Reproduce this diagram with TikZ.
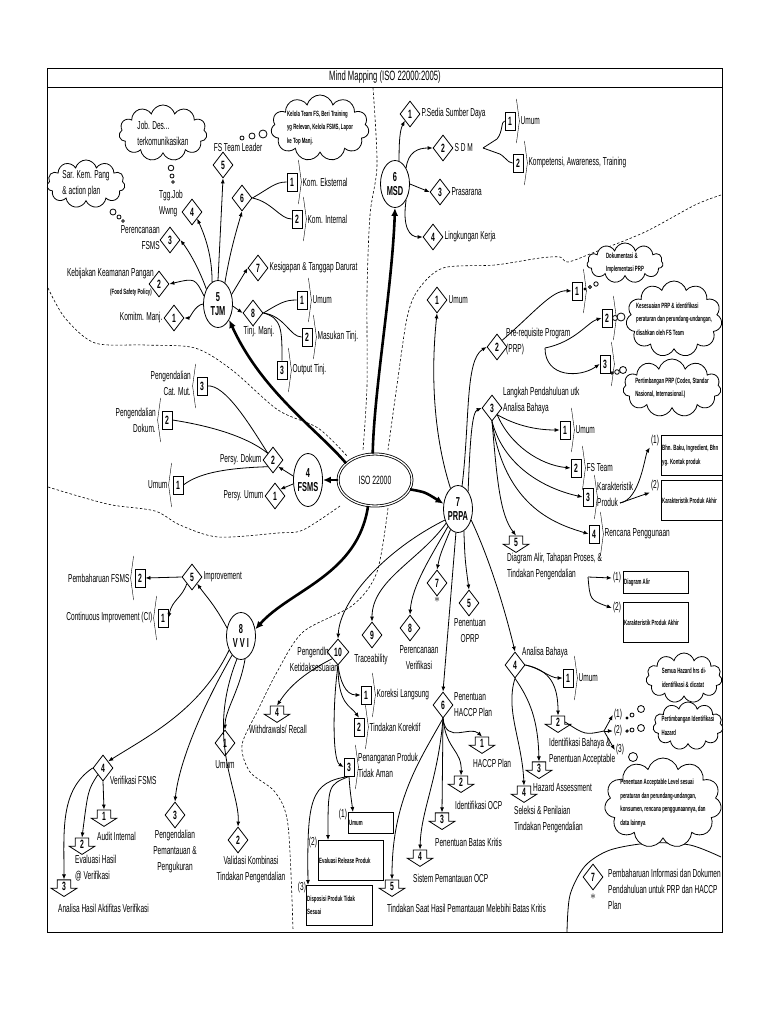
\documentclass[tikz,border=0pt]{standalone}
\usepackage{fontspec}
\setmainfont{Liberation Sans}[FakeStretch=0.57]
\usetikzlibrary{shapes.geometric,shapes.symbols,shapes.arrows,arrows.meta,calc}

\begin{document}
\begin{tikzpicture}[x=1pt,y=-1pt,>={Latex[length=5pt,width=4pt]},
  txt/.style={font=\fontsize{11.5}{16}\selectfont,inner sep=1pt,align=center},
  stxt/.style={font=\bfseries\fontsize{7.6}{13.5}\selectfont,inner sep=1pt,align=left},
  hub/.style={ellipse,draw,thick,fill=white,inner sep=0pt,minimum width=29pt,minimum height=47pt,
    align=center,font=\bfseries\fontsize{13}{14}\selectfont},
  dnode/.style={diamond,draw,thick,fill=white,inner sep=0pt,minimum width=20pt,minimum height=26pt,
    font=\bfseries\fontsize{12}{12}\selectfont},
  bnode/.style={rectangle,draw,thick,fill=white,inner sep=0pt,minimum width=10pt,minimum height=18pt,
    font=\bfseries\fontsize{12}{12}\selectfont,
    append after command={($(\tikzlastnode.east)+(1,-22)$) edge ($(\tikzlastnode.east)+(4,0)$)
      ($(\tikzlastnode.east)+(4,0)$) edge ($(\tikzlastnode.east)+(1,22)$)}},
  blnode/.style={rectangle,draw,thick,fill=white,inner sep=0pt,minimum width=10pt,minimum height=18pt,
    font=\bfseries\fontsize{12}{12}\selectfont,
    append after command={($(\tikzlastnode.west)+(-1,-22)$) edge ($(\tikzlastnode.west)+(-4,0)$)
      ($(\tikzlastnode.west)+(-4,0)$) edge ($(\tikzlastnode.west)+(-1,22)$)}},
  anode/.style={single arrow,draw,thick,fill=white,shape border rotate=270,single arrow head extend=6pt,
    single arrow tip angle=115,inner xsep=4.5pt,inner ysep=1.5pt,font=\bfseries\fontsize{12}{12}\selectfont},
  cnode/.style={cloud,draw,thick,fill=white,cloud puffs=11,cloud ignores aspect,inner sep=0pt},
  rnode/.style={rectangle,draw,thick,fill=white,anchor=north west,inner sep=2pt},
  link/.style={thick,->},
  trunk/.style={line width=2.6pt,-{Latex[length=8pt,width=7pt]}},
  zone/.style={semithick,dash pattern=on 2.5pt off 2pt}]

  \useasboundingbox (0,0) rectangle (768,1024);
  \draw[thick] (47,68) rectangle (722,932);
  \draw[thick] (47,87) -- (722,87);
  \node[txt,font=\fontsize{13.5}{14}\selectfont] (title) at (385,77.5) {Mind Mapping (ISO 22000:2005)};

  % region borders
  \draw[zone] plot[smooth] coordinates {(48,288) (65,318) (95,343) (145,345) (195,348) (232,370) (278,410) (318,428) (347,456)};
  \draw[zone] plot[smooth] coordinates {(373,88) (377,165) (370,215) (367,292) (367,385) (363,450)};
  \draw[zone] plot[smooth] coordinates {(721,195) (695,205) (645,232) (595,252) (568,262) (560,257) (540,258) (495,265) (443,268) (418,290) (407,318) (397,385) (388,450)};
  \draw[zone] plot[smooth] coordinates {(48,487) (78,496) (112,505) (155,511) (180,525) (218,537) (278,533) (303,530) (340,506)};
  \draw[zone] plot[smooth] coordinates {(388,508) (377,572) (353,605) (303,632) (277,672) (258,710) (242,745) (250,772) (275,792) (288,825) (293,930)};
  \draw[thick] plot[smooth] coordinates {(567,932) (570,895) (585,866) (610,850) (650,843) (690,845) (721,857)};

  % hubs
  \node[hub,double,double distance=1.3pt,minimum width=74pt,minimum height=52pt,
    font=\fontsize{12}{13}\selectfont] (iso) at (375,480) {ISO 22000};
  \node[hub] (tjm) at (218,304) {5\\TJM};
  \node[hub] (msd) at (395,184) {6\\MSD};
  \node[hub,minimum height=53pt] (fsms) at (308,480) {4\\FSMS};
  \node[hub] (prpa) at (458,509) {7\\PRPA};
  \node[hub] (vvi) at (241,636) {8\\V V I};

  \draw[trunk] (iso.150) .. controls (318,430) and (262,392) .. (tjm.-55);
  \draw[trunk] (iso.95) .. controls (374,390) and (392,290) .. (msd.south);
  \draw[trunk] (iso.west) -- (fsms.east);
  \draw[trunk] (iso.-15) .. controls (425,492) .. (prpa.160);
  \draw[trunk] (iso.-105) .. controls (358,575) and (290,590) .. (vvi.25);

  % TJM
  \node[dnode,label={[txt]left:Komitm. Manj.}] (tjm1) at (174,318) {1};
  \node[dnode] (tjm2) at (159,284) {2};
  \node[txt,anchor=east] (tjm2t) at (155,274) {Kebijakan Keamanan Pangan};
  \node[stxt,anchor=east] (tjm2s) at (153,293) {(Food Safety Policy)};
  \node[dnode] (tjm3) at (170,240) {3};
  \node[txt,anchor=east,align=right] (tjm3t) at (161,238) {Perencanaan\\FSMS};
  \node[dnode] (tjm4) at (192,212) {4};
  \node[txt,anchor=east,align=left] (tjm4t) at (184,204) {Tgg.Job\\Wwng};
  \node[dnode] (tjm5) at (223,165) {5};
  \node[txt] (tjm5t) at (238,147) {FS Team Leader};
  \node[dnode] (tjm6) at (242,198) {6};
  \node[bnode,label={[txt,xshift=4pt]right:Kom. Eksternal}] (tjm61) at (292,182) {1};
  \node[bnode,label={[txt,xshift=4pt]right:Kom. Internal}] (tjm62) at (297,219) {2};
  \node[dnode,label={[txt]right:Kesigapan \& Tanggap Darurat}] (tjm7) at (258,268) {7};
  \node[dnode] (tjm8) at (253,313) {8};
  \node[txt] (tjm8t) at (259,332) {Tinj. Manj.};
  \node[bnode,label={[txt,xshift=4pt]right:Umum}] (tjm81) at (302,300) {1};
  \node[bnode,label={[txt,xshift=4pt]right:Masukan Tinj.}] (tjm82) at (307,337) {2};
  \node[bnode,label={[txt,xshift=4pt]right:Output Tinj.}] (tjm83) at (282,370) {3};
  \node[cnode,minimum width=88pt,minimum height=56pt,label={[txt,align=left]center:Job. Des...\\terkomunikasikan}] (tjmc1) at (163,133) {};
  \node[cnode,minimum width=78pt,minimum height=48pt,label={[txt,align=left]center:Sar. Kem. Pang\\\& action plan}] (tjmc2) at (86,184) {};
  \node[cnode,minimum width=98pt,minimum height=66pt,label={[stxt]center:{Kelola Team FS, Beri Training\\yg Relevan, Kelola FSMS, Lapor\\ke Top Manj.}}] (tjmc3) at (320,128) {};
  \foreach \x/\y/\r in {113/212/3,119/217/2,123/221/1.4,171/168/2.8,172/176/2,173/182/1.4,242/138/2,252/136/3,263/134/4}
    \draw[thick,fill=white] (\x,\y) circle[radius=\r pt];

  \draw[link] (tjm.west) .. controls (195,305) and (190,318) .. (tjm1.east);
  \draw[link] (tjm.150) .. controls (195,278) .. (tjm2.east);
  \draw[link] (tjm.128) .. controls (198,266) and (188,250) .. (tjm3.east);
  \draw[link] (tjm.105) .. controls (212,255) and (205,236) .. (tjm4.south east);
  \draw[link] (tjm.north) -- (tjm5.south);
  \draw[link] (tjm.72) .. controls (230,252) and (236,232) .. (tjm6.south);
  \draw[link] (tjm.35) -- (tjm7.west);
  \draw[link] (tjm.-8) -- (tjm8.west);
  \draw[thick] (tjm6.east) .. controls (270,188) and (275,182) .. (tjm61.west);
  \draw[thick] (tjm6.east) .. controls (272,202) and (280,219) .. (tjm62.west);
  \draw[thick] (tjm8.east) .. controls (280,303) and (285,300) .. (tjm81.west);
  \draw[thick] (tjm8.east) .. controls (285,316) and (290,337) .. (tjm82.west);
  \draw[thick] (tjm8.east) .. controls (282,318) and (282,330) .. (tjm83.north);

  % MSD
  \node[dnode,label={[txt]right:P.Sedia Sumber Daya}] (msd1) at (410,114) {1};
  \node[dnode,label={[txt]right:S D M}] (msd2) at (443,148) {2};
  \coordinate (sdm) at (483,148);
  \node[bnode,label={[txt,xshift=4pt]right:Umum}] (msd21) at (510,121) {1};
  \node[bnode,label={[txt,xshift=4pt]right:{Kompetensi, Awareness, Training}}] (msd22) at (518,163) {2};
  \node[dnode,label={[txt]right:Prasarana}] (msd3) at (440,192) {3};
  \node[dnode,label={[txt]right:Lingkungan Kerja}] (msd4) at (433,237) {4};
  \draw[link] (msd.80) .. controls (399,140) and (400,130) .. (msd1.south west);
  \draw[link] (msd.55) .. controls (408,152) and (418,148) .. (msd2.west);
  \draw[link] (msd.east) -- (msd3.west);
  \draw[link] (msd.-55) .. controls (402,228) and (410,237) .. (msd4.west);
  \draw[thick] (sdm) -- (497,139) .. controls (503,132) and (501,121) .. (msd21.west);
  \draw[thick] (sdm) -- (497,153) .. controls (505,155) and (507,163) .. (msd22.west);

  % FSMS
  \node[dnode,label={[txt]left:Persy. Dokum}] (fsms2) at (273,460) {2};
  \node[dnode,label={[txt]left:Persy. Umum}] (fsms1) at (275,496) {1};
  \node[blnode] (fsms23) at (202,386) {3};
  \node[txt,anchor=east,align=right] (fsms23t) at (192,383) {Pengendalian\\Cat. Mut.};
  \node[blnode] (fsms22) at (167,420) {2};
  \node[txt,anchor=east,align=right] (fsms22t) at (157,420) {Pengendalian\\Dokum.};
  \node[blnode,label={[txt,xshift=-4pt]left:Umum}] (fsms11) at (178,485) {1};
  \draw[link] (fsms.165) -- (fsms2.south east);
  \draw[link] (fsms.195) -- (fsms1.north east);
  \draw[thick] (fsms2.north west) .. controls (250,425) and (225,384) .. (fsms23.east);
  \draw[thick] (fsms2.north west) .. controls (245,435) and (205,425) .. (fsms22.east);
  \draw[thick] (fsms2.south west) .. controls (230,468) and (200,472) .. (fsms11.east);

  % PRPA
  \node[dnode,label={[txt]right:Umum}] (prpa1) at (437,300) {1};
  \node[dnode] (prpa2) at (497,347) {2};
  \node[txt,anchor=west,align=left] (prpa2t) at (505,342) {Pre-requisite Program\\(PRP)};
  \coordinate (prp) at (545,348);
  \node[bnode] (prpa21) at (577,291) {1};
  \node[bnode] (prpa22) at (607,318) {2};
  \node[bnode] (prpa23) at (605,364) {3};
  \node[cnode,minimum width=76pt,minimum height=40pt,label={[stxt]center:Dokumentasi \&\\Implementasi PRP}] (prpac1) at (625,263) {};
  \node[cnode,minimum width=96pt,minimum height=76pt,label={[stxt]center:{Kesesuaian PRP \& identifikasi\\peraturan dan perundang-undangan,\\disahkan oleh FS Team}}] (prpac2) at (674,319) {};
  \node[cnode,minimum width=98pt,minimum height=58pt,label={[stxt]center:{Pertimbangan PRP (Codex, Standar\\Nasional, Internasional.)}}] (prpac3) at (672,388) {};
  \foreach \x/\y/\r in {585/289/1,590/287/1.5,596/284/2.2,615/318/2.5,621/317/4,612/373/1.2,617/372/2.3,623/370/3.5}
    \draw[thick,fill=white] (\x,\y) circle[radius=\r pt];

  \node[dnode] (prpa3) at (492,408) {3};
  \node[txt,anchor=west,align=left] (prpa3t) at (502,401) {Langkah Pendahuluan utk\\Analisa Bahaya};
  \node[bnode,label={[txt,xshift=4pt]right:Umum}] (prpa31) at (565,430) {1};
  \node[bnode,label={[txt,xshift=4pt]right:FS Team}] (prpa32) at (576,468) {2};
  \node[bnode] (prpa33) at (588,497) {3};
  \node[txt,anchor=west,align=left] (prpa33t) at (596,494) {Karakteristik\\Produk};
  \coordinate (kprod) at (620,503);
  \node[bnode,label={[txt,xshift=4pt]right:Rencana Penggunaan}] (prpa34) at (594,534) {4};
  \node[txt] (kp1) at (655,441) {(1)};
  \node[rnode,minimum width=61pt,minimum height=40pt,label={[stxt,anchor=west]west:{Bhn. Baku, Ingredient, Bhn\\yg. Kontak produk}}] (kpr1) at (661,435) {};
  \node[txt] (kp2) at (655,486) {(2)};
  \node[rnode,minimum width=61pt,minimum height=40pt,label={[stxt,anchor=west]west:Karakteristik Produk Akhir}] (kpr2) at (661,480) {};
  \node[anode] (prpa35) at (516,542) {5};
  \node[txt,anchor=north west,align=left] (prpa35t) at (506,552) {Diagram Alir, Tahapan Proses, \&\\Tindakan Pengendalian};
  \coordinate (dalir) at (588,577);
  \node[txt] (da1) at (617,578) {(1)};
  \node[rnode,minimum width=65pt,minimum height=22pt,label={[stxt,anchor=west]west:Diagram Alir}] (dar1) at (623,571) {};
  \node[txt] (da2) at (617,608) {(2)};
  \node[rnode,minimum width=65pt,minimum height=40pt,label={[stxt,anchor=west]west:Karakteristik Produk Akhir}] (dar2) at (623,602) {};

  \node[dnode] (prpa4) at (515,665) {4};
  \node[txt,anchor=west] (prpa4t) at (521,653) {Analisa Bahaya};
  \node[bnode,label={[txt,xshift=4pt]right:Umum}] (prpa41) at (568,678) {1};
  \node[anode] (prpa42) at (558,722) {2};
  \node[txt,anchor=north west,align=left] (prpa42t) at (548,737) {Identifikasi Bahaya \&\\Penentuan Acceptable};
  \node[anode] (prpa43) at (539,768) {3};
  \node[txt,anchor=west] (prpa43t) at (532,787) {Hazard Assessment};
  \node[anode] (prpa44) at (524,792) {4};
  \node[txt,anchor=north west,align=left] (prpa44t) at (513,805) {Seleksi \& Penilaian\\Tindakan Pengendalian};
  \node[txt] (h1) at (618,715) {(1)};
  \node[txt] (h2) at (618,731) {(2)};
  \node[txt] (h3) at (620,750) {(3)};
  \coordinate (hz) at (604,731);
  \node[cnode,minimum width=76pt,minimum height=50pt,label={[stxt]center:Semua Hazard hrs di-\\identifikasi \& dicatat}] (hc1) at (684,678) {};
  \node[cnode,minimum width=70pt,minimum height=48pt,label={[stxt]center:Pertimbangan Identifikasi\\Hazard}] (hc2) at (688,726) {};
  \node[cnode,minimum width=117pt,minimum height=90pt,label={[stxt]center:{Penentuan Acceptable Level sesuai\\peraturan dan perundang-undangan,\\konsumen, rencana penggunaannya, dan\\data lainnya}}] (hc3) at (663,803) {};
  \foreach \x/\y/\r in {627/718/1,632/715/2,641/709/3.5,627/731/1.2,632/730/2,641/728/3.5,633/757/4.5}
    \draw[thick,fill=white] (\x,\y) circle[radius=\r pt];

  \node[dnode] (prpa5) at (469,603) {5};
  \node[txt,anchor=north] (prpa5t) at (470,617) {Penentuan\\OPRP};
  \node[dnode] (prpa6) at (443,705) {6};
  \node[txt,anchor=west,align=left] (prpa6t) at (453,705) {Penentuan\\HACCP Plan};
  \node[anode] (prpa61) at (482,743) {1};
  \node[txt,anchor=west] (prpa61t) at (472,763) {HACCP Plan};
  \node[anode] (prpa62) at (461,782) {2};
  \node[txt,anchor=west] (prpa62t) at (454,805) {Identifikasi OCP};
  \node[anode] (prpa63) at (442,819) {3};
  \node[txt,anchor=west] (prpa63t) at (434,842) {Penentuan Batas Kritis};
  \node[anode] (prpa64) at (420,856) {4};
  \node[txt,anchor=west] (prpa64t) at (412,878) {Sistem Pemantauan OCP};
  \node[anode] (prpa65) at (392,886) {5};
  \node[txt,anchor=west] (prpa65t) at (386,908) {Tindakan Saat Hasil Pemantauan Melebihi Batas Kritis};
  \node[dnode] (prpa7) at (437,583) {7};
  \node[txt] (prpa7s) at (437,600) {$\ast$};
  \node[dnode] (prpa8) at (410,628) {8};
  \node[txt,anchor=north] (prpa8t) at (419,644) {Perencanaan\\Verifikasi};
  \node[dnode] (prpa9) at (372,635) {9};
  \node[txt] (prpa9t) at (371,660) {Traceability};
  \node[dnode,minimum width=22pt] (prpa10) at (338,652) {10};
  \node[txt] (prpa10t) at (314,659) {Pengendln.\\Ketidaksesuaian};
  \node[bnode,label={[txt,xshift=4pt]right:Koreksi Langsung}] (prpa101) at (366,695) {1};
  \node[bnode,label={[txt,xshift=4pt]right:Tindakan Korektif}] (prpa102) at (359,727) {2};
  \node[bnode] (prpa103) at (349,767) {3};
  \node[txt,anchor=west,align=left] (prpa103t) at (357,765) {Penanganan Produk\\Tidak Aman};
  \node[anode] (prpa104) at (277,712) {4};
  \node[txt] (prpa104t) at (278,729) {Withdrawals/ Recall};
  \node[txt] (pp1) at (343,815) {(1)};
  \node[rnode,minimum width=45pt,minimum height=21pt,label={[stxt,anchor=west]west:Umum}] (ppr1) at (348,812) {};
  \node[txt] (pp2) at (313,843) {(2)};
  \node[rnode,minimum width=65pt,minimum height=40pt,label={[stxt,anchor=west]west:Evaluasi Release Produk}] (ppr2) at (318,840) {};
  \node[txt] (pp3) at (302,888) {(3)};
  \node[rnode,minimum width=66pt,minimum height=40pt,label={[stxt,anchor=west]west:Disposisi Produk Tidak\\Sesuai}] (ppr3) at (306,885) {};

  \draw[link] (prpa.110) .. controls (435,440) and (430,380) .. (prpa1.south);
  \draw[link] (prpa.80) .. controls (470,420) and (465,360) .. (prpa2.west);
  \draw[link] (prpa.60) .. controls (470,440) and (472,412) .. (prpa3.west);
  \draw[link] (prpa2.north east) .. controls (535,312) and (552,290) .. (prpa21.west);
  \draw[link] (prp) .. controls (575,342) and (588,322) .. (prpa22.west);
  \draw[link] (prp) .. controls (545,378) and (580,378) .. (prpa23.west);
  \draw[link] (prpa3.south east) .. controls (515,425) and (535,430) .. (prpa31.west);
  \draw[link] (prpa3.south east) .. controls (510,445) and (540,465) .. (prpa32.west);
  \draw[link] (prpa3.south) .. controls (505,470) and (550,490) .. (prpa33.west);
  \draw[link] (prpa3.south) .. controls (505,510) and (560,525) .. (prpa34.west);
  \draw[link] (prpa3.south) .. controls (497,480) and (500,515) .. (prpa35.tail);
  \draw[link] (kprod) .. controls (640,500) and (645,455) .. (kp1.south west);
  \draw[link] (kprod) -- (kp2.south west);
  \draw[link] (dalir) -- (da1.west);
  \draw[link] (dalir) .. controls (590,600) .. (da2.west);
  \draw[link] (prpa.-40) .. controls (490,560) and (505,610) .. (prpa4.north);
  \draw[link] (prpa.-75) .. controls (465,560) .. (prpa5.north);
  \draw[link] (prpa.-95) -- (prpa6.north);
  \draw[link] (prpa.-110) .. controls (440,555) .. (prpa7.north);
  \draw[link] (prpa.-120) .. controls (432,555) and (412,585) .. (prpa8.north);
  \draw[link] (prpa.-130) .. controls (420,560) and (372,580) .. (prpa9.north);
  \draw[link] (prpa.-140) .. controls (385,550) and (340,600) .. (prpa10.north);
  \draw[link] (prpa4.east) .. controls (540,668) and (550,678) .. (prpa41.west);
  \draw[link] (prpa4.east) .. controls (550,670) and (558,685) .. (prpa42.tail);
  \draw[link] (prpa4.south) .. controls (530,700) and (538,720) .. (prpa43.tail);
  \draw[link] (prpa4.south) .. controls (505,710) and (522,740) .. (prpa44.tail);
  \draw[thick] (prpa42.east) .. controls (585,735) .. (hz);
  \draw[link] (hz) -- (h1.west);
  \draw[link] (hz) -- (h2.west);
  \draw[link] (hz) -- (h3.west);
  \draw[link] (prpa6.south) .. controls (446,745) and (470,725) .. (prpa61.tail);
  \draw[link] (prpa6.south) .. controls (446,750) and (462,750) .. (prpa62.tail);
  \draw[link] (prpa6.south) -- (prpa63.tail);
  \draw[link] (prpa6.south) .. controls (438,780) and (421,810) .. (prpa64.tail);
  \draw[link] (prpa6.south) .. controls (420,760) and (392,800) .. (prpa65.tail);
  \draw[link] (prpa10.south) .. controls (340,680) and (345,695) .. (prpa101.west);
  \draw[link] (prpa10.south) .. controls (338,705) and (350,705) .. (prpa102.north);
  \draw[link] (prpa10.south) .. controls (333,700) and (332,760) .. (prpa103.west);
  \draw[link] (prpa10.south west) .. controls (300,675) and (287,690) .. (prpa104.tail);
  \draw[link] (prpa103.south) .. controls (350,790) .. ([xshift=5pt]ppr1.north west);
  \draw[link] (prpa103.south) .. controls (328,785) .. ([xshift=10pt]ppr2.north west);
  \draw[link] (prpa103.south) .. controls (310,782) and (307,800) .. ([xshift=2pt]ppr3.north west);

  % VVI
  \node[dnode,label={[txt]right:Improvement}] (vvi5) at (192,577) {5};
  \node[blnode,label={[txt,xshift=-4pt]left:Pembaharuan FSMS}] (vvi52) at (140,578) {2};
  \node[blnode,label={[txt,xshift=-4pt]left:{Continuous Improvement (CI)}}] (vvi51) at (163,618) {1};
  \node[dnode] (vvi4) at (103,768) {4};
  \node[txt,anchor=west] (vvi4t) at (109,780) {Verifikasi FSMS};
  \node[anode] (vvi41) at (104,816) {1};
  \node[txt,anchor=west] (vvi41t) at (96,836) {Audit Internal};
  \node[anode] (vvi42) at (82,844) {2};
  \node[txt,anchor=north west,align=left] (vvi42t) at (74,854) {Evaluasi Hasil\\@ Verifikasi};
  \node[anode] (vvi43) at (64,886) {3};
  \node[txt,anchor=west] (vvi43t) at (57,908) {Analisa Hasil Aktifitas Verifikasi};
  \node[dnode] (vvi3) at (175,815) {3};
  \node[txt,anchor=north] (vvi3t) at (175,829) {Pengendalian\\Pemantauan \&\\Pengukuran};
  \node[dnode] (vvi2) at (238,840) {2};
  \node[txt,anchor=north] (vvi2t) at (251,855) {Validasi Kombinasi\\Tindakan Pengendalian};
  \node[dnode] (vvi1) at (225,743) {1};
  \node[txt] (vvi1t) at (225,765) {Umum};
  \draw[link] (vvi.150) .. controls (215,605) and (205,595) .. (vvi5.south east);
  \draw[link] (vvi5.west) -- (vvi52.east);
  \draw[link] (vvi5.south west) .. controls (182,598) and (172,600) .. (vvi51.east);
  \draw[link] (vvi.-130) .. controls (200,710) and (150,735) .. (vvi4.north east);
  \draw[link] (vvi.-115) .. controls (195,720) and (178,770) .. (vvi3.north);
  \draw[link] (vvi.-100) .. controls (205,740) and (240,790) .. (vvi2.north);
  \draw[link] (vvi.-80) .. controls (240,690) and (225,710) .. (vvi1.north);
  \draw[link] (vvi4.south) -- (vvi41.tail);
  \draw[link] (vvi4.south west) .. controls (88,790) .. (vvi42.tail);
  \draw[link] (vvi4.west) .. controls (60,790) and (64,830) .. (vvi43.tail);

  % update of prerequisite data
  \node[dnode] (upd) at (593,877) {7};
  \node[txt] (upds) at (593,897) {$\ast$};
  \node[txt,anchor=west,align=left] (updt) at (607,889) {Pembaharuan Informasi dan Dokumen\\Pendahuluan untuk PRP dan HACCP\\Plan};

\end{tikzpicture}
\end{document}
